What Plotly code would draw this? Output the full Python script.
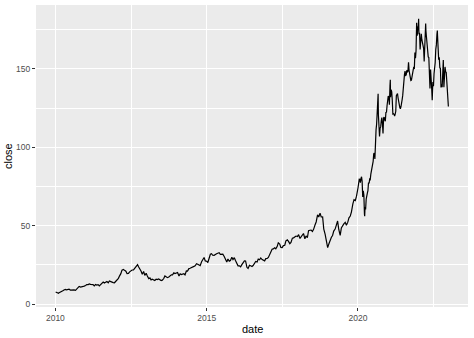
import pandas as pd
import plotly.graph_objects as go

# Semi-monthly closes (1st and 15th of each month), 2010-2019
close_2010 = [7.64, 7.35, 6.95, 7.25, 7.46, 8.00, 8.42, 8.93, 9.33, 9.07, 9.35, 9.43,
              8.90, 8.95, 9.35, 8.98, 8.71, 9.72, 10.09, 11.24, 10.86, 10.94, 11.24, 11.39]
close_2011 = [11.77, 12.36, 12.37, 12.81, 12.51, 12.56, 12.42, 11.56, 12.45, 12.10, 12.34, 11.60,
              12.56, 13.02, 14.05, 13.41, 13.85, 14.35, 13.59, 14.68, 14.30, 13.78, 13.63, 13.56]
close_2012 = [14.69, 15.04, 16.39, 17.98, 19.37, 21.62, 22.06, 21.47, 20.91, 19.46, 19.59, 20.50,
              21.25, 21.70, 21.80, 22.93, 23.88, 24.69, 23.74, 22.57, 20.91, 18.99, 20.83, 18.34]
close_2013 = [19.61, 17.84, 16.19, 16.65, 15.42, 15.83, 15.12, 15.04, 15.82, 15.56, 16.00, 15.48,
              14.99, 15.22, 16.27, 17.90, 17.46, 16.81, 17.23, 17.95, 18.67, 18.57, 19.86, 19.41]
close_2014 = [19.75, 20.13, 17.87, 19.24, 18.76, 18.91, 19.34, 18.61, 21.07, 21.00, 22.61, 22.83,
              23.38, 23.93, 24.02, 24.42, 25.73, 25.37, 24.90, 24.50, 27.00, 28.55, 29.73, 27.52]
close_2015 = [27.33, 26.50, 29.29, 31.76, 32.11, 31.10, 31.08, 31.74, 32.07, 32.41, 32.71, 31.72,
              31.65, 31.77, 30.33, 28.85, 26.79, 28.67, 27.39, 27.77, 29.88, 28.33, 29.56, 27.74]
close_2016 = [26.34, 24.34, 24.33, 23.72, 25.13, 26.18, 27.50, 27.46, 23.44, 22.65, 24.76, 24.37,
              23.98, 24.59, 26.05, 27.12, 26.78, 28.73, 28.26, 29.41, 28.39, 27.70, 27.53, 28.97]
close_2017 = [29.04, 29.75, 32.03, 33.89, 34.95, 35.17, 35.92, 35.26, 36.65, 39.02, 38.29, 36.06,
              36.00, 37.26, 37.51, 40.28, 41.00, 39.97, 38.53, 39.32, 42.03, 42.22, 42.78, 43.37]
close_2018 = [43.06, 44.27, 41.86, 43.11, 44.53, 44.99, 41.67, 43.49, 42.28, 46.76, 47.10, 47.21,
              46.28, 47.65, 50.38, 52.34, 56.91, 55.53, 58.00, 55.53, 55.56, 47.85, 44.65, 41.37]
close_2019 = [36.00, 38.27, 41.63, 42.60, 43.74, 46.53, 47.81, 49.87, 52.94, 47.57, 43.77, 48.47,
              50.39, 51.10, 52.11, 50.25, 52.24, 54.97, 56.15, 58.83, 63.96, 66.57, 66.04, 68.79]

# Weekly (Friday) closes, 2020-2022
close_2020 = [74.36, 77.58, 79.68, 79.58, 77.38, 80.01, 81.24, 78.26, 68.34, 72.26, 69.49, 57.31,
              61.94, 60.35, 66.99, 70.70, 70.74, 72.27, 77.53, 76.93, 79.72, 79.49, 82.88, 84.70,
              87.43, 88.41, 91.03, 95.92, 96.33, 92.62, 106.26, 111.11, 114.91, 124.37, 124.81,
              120.96, 112.00, 106.84, 112.28, 113.02, 116.97, 119.02, 115.04, 108.86, 118.69,
              119.26, 117.34, 116.59, 122.25, 122.41, 126.66, 130.96]
close_2021 = [132.69, 132.05, 127.14, 139.07, 131.96, 136.76, 135.37, 129.87, 121.26, 121.42,
              121.03, 119.99, 121.21, 123.00, 133.00, 134.16, 134.32, 131.46, 130.21, 127.45,
              125.43, 124.61, 125.89, 127.35, 130.46, 133.11, 139.96, 145.11, 146.39, 148.56,
              145.86, 146.14, 149.10, 148.19, 148.60, 154.30, 148.97, 146.06, 146.92, 142.65,
              142.90, 144.84, 148.69, 149.80, 151.28, 149.99, 160.55, 156.81, 161.84, 179.45,
              171.14, 176.28, 177.57]
close_2022 = [172.17, 173.07, 162.41, 170.33, 172.39, 168.64, 167.30, 164.85, 163.17, 154.73,
              163.98, 174.72, 174.31, 170.09, 165.29, 161.79, 157.65, 157.28, 147.11, 137.59,
              149.64, 145.38, 137.13, 131.56, 141.66, 138.93, 147.04, 150.17, 154.09, 162.51,
              165.35, 172.10, 171.52, 163.62, 155.81, 157.37, 150.70, 150.43, 138.20, 140.09,
              138.38, 147.27, 155.74, 138.38, 149.70, 151.29, 148.11, 147.81, 142.16, 134.51,
              131.86]

# Extra daily extremes
extra_dates = ["2010-02-08", "2012-09-19", "2020-03-23", "2020-09-01", "2021-01-26",
               "2022-01-03", "2022-03-29", "2022-06-16", "2022-08-17", "2022-12-28"]
extra_close = [6.86, 25.09, 56.09, 134.18, 143.16, 182.01, 178.96, 130.06, 174.55, 126.04]

x_tick_labels = ["2010", "2015", "2020"]
y_tick_values = [0, 50, 100, 150]

semi = close_2010 + close_2011 + close_2012 + close_2013 + close_2014 + \
       close_2015 + close_2016 + close_2017 + close_2018 + close_2019
semi_dates = pd.date_range("2010-01-01", periods=len(semi), freq="SMS")
semi_dates = semi_dates.where(semi_dates != pd.Timestamp("2010-01-01"), pd.Timestamp("2010-01-04"))

weekly = close_2020 + close_2021 + close_2022
weekly_dates = pd.date_range("2020-01-03", periods=len(weekly), freq="W-FRI")

df = pd.concat([
    pd.DataFrame({"date": semi_dates, "close": semi}),
    pd.DataFrame({"date": weekly_dates, "close": weekly}),
    pd.DataFrame({"date": pd.to_datetime(extra_dates), "close": extra_close}),
]).sort_values("date")
df = df[df["date"] <= pd.Timestamp("2022-12-28")]

fig = go.Figure(go.Scatter(x=df["date"], y=df["close"], mode="lines",
                           line=dict(color="black", width=1.2), hoverinfo="skip"))

font_family = "Liberation Sans, Arial, sans-serif"
fig.update_layout(
    width=474, height=338,
    margin=dict(l=36, r=6, t=5, b=31, autoexpand=False),
    paper_bgcolor="white", plot_bgcolor="#EBEBEB",
    showlegend=False,
    font=dict(family=font_family, color="#4D4D4D", size=8.5),
    annotations=[
        dict(text="date", xref="paper", yref="paper", x=0.5, y=0,
             yshift=-14, xanchor="center", yanchor="top", showarrow=False,
             font=dict(size=11, color="black", family=font_family)),
        dict(text="close", xref="paper", yref="paper", x=0, y=0.5,
             xshift=-20, xanchor="right", yanchor="middle", textangle=-90,
             showarrow=False, font=dict(size=11, color="black", family=font_family)),
    ],
)
fig.update_xaxes(
    type="date",
    range=["2009-05-12", "2023-08-22"],
    tickvals=["2010-01-01", "2015-01-01", "2020-01-01"],
    ticktext=x_tick_labels,
    showgrid=True, gridcolor="white", gridwidth=1.1,
    minor=dict(tickvals=["2012-07-02", "2017-07-02", "2022-07-02"], showgrid=True,
               gridcolor="white", gridwidth=0.5, ticks=""),
    ticks="outside", ticklen=3, tickcolor="#333333", tickwidth=1,
    zeroline=False, showline=False, automargin=False,
    tickfont=dict(size=8.5, color="#4D4D4D"),
)
fig.update_yaxes(
    range=[-1.9, 190.8],
    tickvals=y_tick_values,
    showgrid=True, gridcolor="white", gridwidth=1.1,
    minor=dict(tickvals=[25, 75, 125, 175], showgrid=True,
               gridcolor="white", gridwidth=0.5, ticks=""),
    ticks="outside", ticklen=3, tickcolor="#333333", tickwidth=1,
    zeroline=False, showline=False, automargin=False,
    tickfont=dict(size=8.5, color="#4D4D4D"),
)
fig.write_html("out.html", config={"displayModeBar": False},
               post_script="document.body.style.margin='0';document.body.style.padding='0';")
